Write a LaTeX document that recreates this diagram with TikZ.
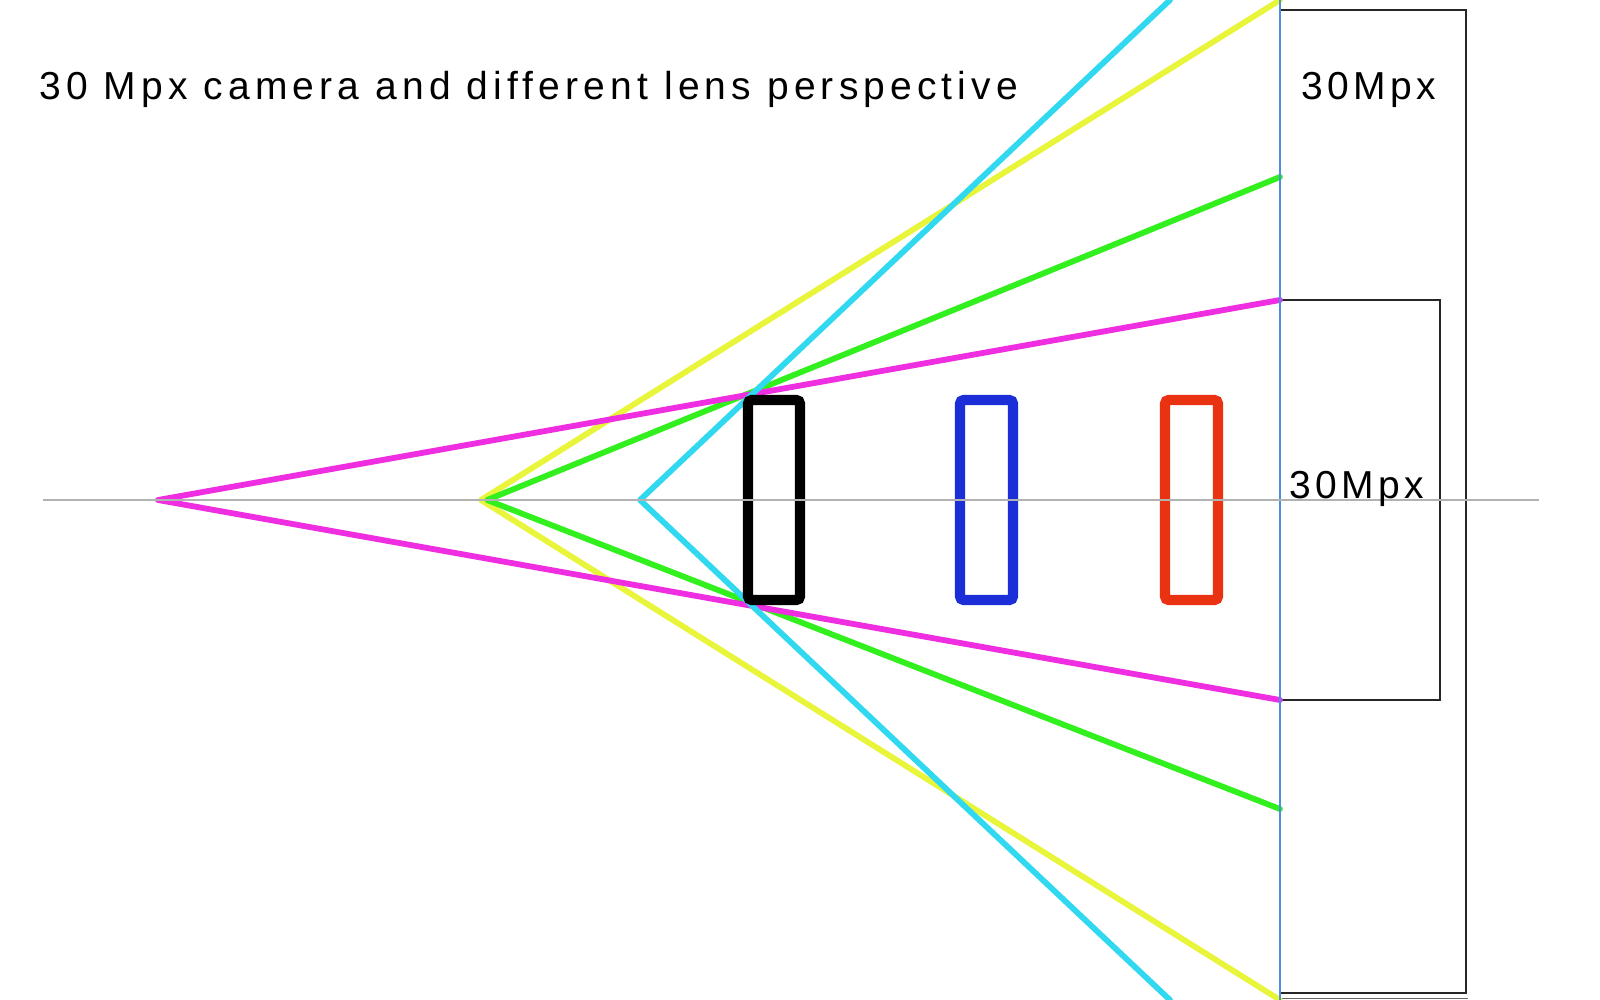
\documentclass[tikz,border=0pt]{standalone}
\usepackage{fontspec}
\setmainfont{Liberation Sans}
\newfontfamily\lblfont[LetterSpace=11.5]{Liberation Sans}
\newfontfamily\ttlfont[LetterSpace=13.2]{Liberation Sans}
\definecolor{cmag}{RGB}{238,46,224}
\definecolor{cyel}{RGB}{232,245,58}
\definecolor{cgrn}{RGB}{50,240,30}
\definecolor{ccya}{RGB}{48,216,240}
\definecolor{cblu}{RGB}{28,46,216}
\definecolor{cred}{RGB}{232,50,18}
\definecolor{cvln}{RGB}{74,144,224}
\definecolor{caxis}{RGB}{178,178,178}
\tikzset{
  ray/.style={line width=2.9pt, line cap=round, line join=round},
  objbox/.style={line width=5.2pt, rounded corners=2},
  framebox/.style={draw=black!85, line width=1.2pt},
  lbl/.style={inner sep=0pt, font=\lblfont\fontsize{19.5}{23}\selectfont, anchor=base west},
  ttl/.style={inner sep=0pt, font=\ttlfont\fontsize{19.5}{23}\selectfont, anchor=base west},
}
\begin{document}
\begin{tikzpicture}[x=0.5pt, y=-0.5pt]
\useasboundingbox (0,0) rectangle (1600,1000);
\fill[white] (0,0) rectangle (1600,1000);
% vertices and end points
\coordinate (vm) at (158,500);
\coordinate (vy) at (481,500);
\coordinate (vg) at (487,500);
\coordinate (vc) at (640,500);
\coordinate (mt) at (1280,300);
\coordinate (mb) at (1280,700);
\coordinate (yt) at (1280,0);
\coordinate (yb) at (1280,1000);
\coordinate (gt) at (1280,177);
\coordinate (gb) at (1280,809);
\coordinate (ct) at (1170,0);
\coordinate (cb) at (1170,1000);
\coordinate (ax1) at (43,500);
\coordinate (ax2) at (1539,500);
\coordinate (vl1) at (1280,0);
\coordinate (vl2) at (1280,1000);
% frames
\draw[framebox] (1280,10) rectangle (1466,993);
\draw[framebox] (1280,300) rectangle (1440,700);
\draw[draw=black!60, line width=0.8pt] (1280,998.5) -- (1468,998.5);
% rays
\draw[ray, cyel] (yt) -- (vy) -- (yb);
\draw[ray, cgrn] (gt) -- (vg) -- (gb);
\draw[ray, cmag] (mt) -- (vm) -- (mb);
\draw[ray, ccya] (ct) -- (vc) -- (cb);
% objects
\draw[objbox, black] (748,400) rectangle (800,600);
\draw[objbox, cblu] (960,400) rectangle (1013,600);
\draw[objbox, cred] (1165,400) rectangle (1218,600);
% sensor line and axis
\draw[cvln, line width=1.2pt] (vl1) -- (vl2);
\draw[caxis, line width=0.9pt] (ax1) -- (ax2);
% texts
\node[ttl] (title) at (39,100) {30 Mpx camera and different lens perspective};
\node[lbl] (ltop) at (1301,100) {30Mpx};
\node[lbl] (lmid) at (1289,498) {30Mpx};
\end{tikzpicture}
\end{document}
